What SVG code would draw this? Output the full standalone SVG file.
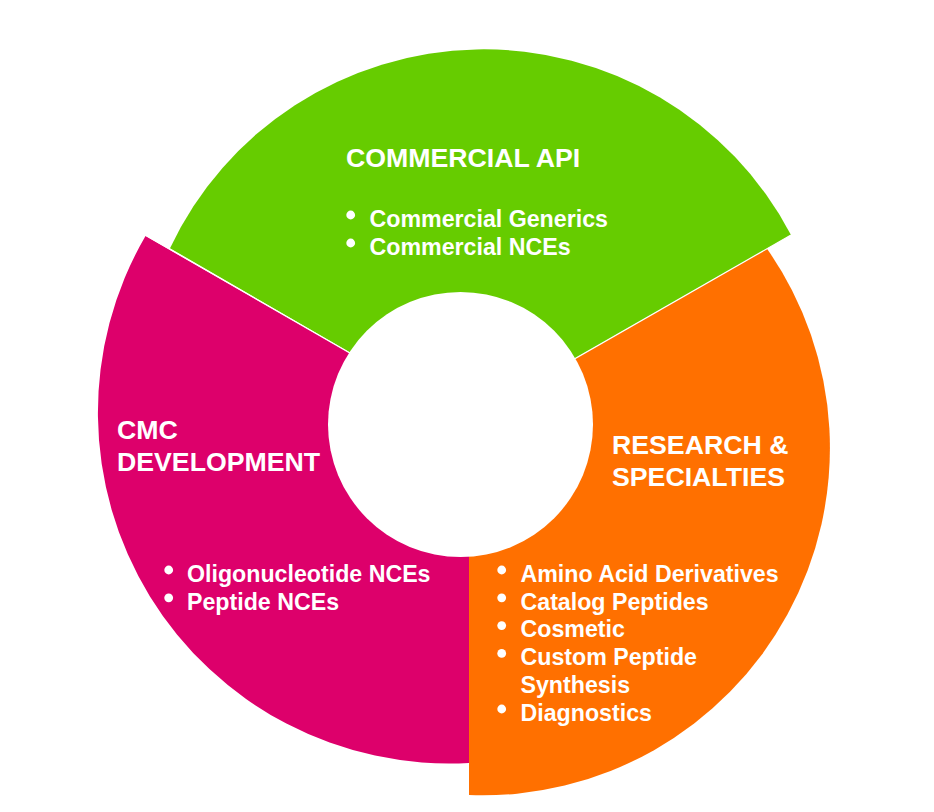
<svg xmlns="http://www.w3.org/2000/svg" width="934" height="812" viewBox="0 0 934 812">
  <style>
    .t { font-family: "Liberation Sans", Arial, sans-serif; font-weight: bold; fill: #ffffff; }
    .h { font-size: 26.7px; }
    .l { font-size: 23.2px; }
    .b { fill: #ffffff; }
    .sep { stroke: #ffffff; stroke-width: 1.2; fill: none; }
  </style>
  <rect x="0" y="0" width="934" height="812" fill="#ffffff"/>

  <g id="seg-cmc">
    <path d="M 469 421.6 L 145.5 236 A 351 351 0 0 0 469 762.9 Z" fill="#DD006B"/>
  </g>
  <g id="seg-research">
    <path d="M 469 419.2 L 767 248.7 A 347.3 347.3 0 0 1 469 795.1 Z" fill="#FF7000"/>
  </g>
  <g id="seg-commercial">
    <path d="M 466.9 420.3 L 170 248.2 A 347 347 0 0 1 791 235 Z" fill="#66CC00"/>
  </g>

  <g id="separators">
    <line class="sep" x1="146" y1="235.5" x2="467" y2="420.4"/>
    <line class="sep" x1="791" y1="235" x2="467" y2="420.4" stroke-width="0.6"/>
  </g>

  <g id="hole">
    <circle cx="460.5" cy="424.5" r="132.5" fill="#ffffff"/>
  </g>

  <g id="label-commercial">
    <text class="t h" x="346" y="166.7">COMMERCIAL API</text>
    <circle class="b" cx="350.7" cy="215" r="4.4"/>
    <text class="t l" x="369.5" y="227.3">Commercial Generics</text>
    <circle class="b" cx="350.7" cy="243" r="4.4"/>
    <text class="t l" x="369.5" y="255.1">Commercial NCEs</text>
  </g>

  <g id="label-cmc">
    <text class="t h" x="117" y="439">CMC</text>
    <text class="t h" x="117" y="471">DEVELOPMENT</text>
    <circle class="b" cx="168.7" cy="570" r="4.4"/>
    <text class="t l" x="187" y="581.7">Oligonucleotide NCEs</text>
    <circle class="b" cx="168.7" cy="597.8" r="4.4"/>
    <text class="t l" x="187" y="609.5">Peptide NCEs</text>
  </g>

  <g id="label-research">
    <text class="t h" x="612" y="454">RESEARCH &amp;</text>
    <text class="t h" x="612" y="486">SPECIALTIES</text>
    <circle class="b" cx="501.7" cy="570" r="4.4"/>
    <text class="t l" x="520.5" y="581.7">Amino Acid Derivatives</text>
    <circle class="b" cx="501.7" cy="597.8" r="4.4"/>
    <text class="t l" x="520.5" y="609.5">Catalog Peptides</text>
    <circle class="b" cx="501.7" cy="625.6" r="4.4"/>
    <text class="t l" x="520.5" y="637.3">Cosmetic</text>
    <circle class="b" cx="501.7" cy="653.4" r="4.4"/>
    <text class="t l" x="520.5" y="665.1">Custom Peptide</text>
    <text class="t l" x="520.5" y="692.9">Synthesis</text>
    <circle class="b" cx="501.7" cy="709" r="4.4"/>
    <text class="t l" x="520.5" y="720.7">Diagnostics</text>
  </g>
</svg>
